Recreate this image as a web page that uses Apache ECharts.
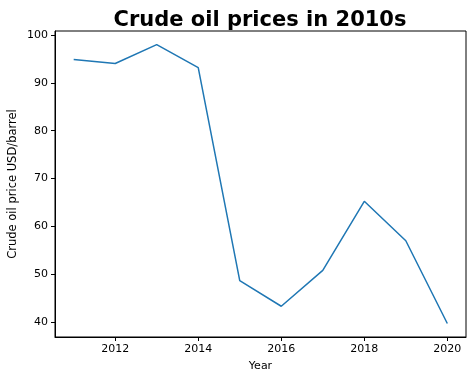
<!DOCTYPE html>
<html><head><meta charset="utf-8">
<script src="https://cdn.jsdelivr.net/npm/echarts@6/dist/echarts.min.js"></script>
<style>html,body{margin:0;padding:0;background:#fff}#c{width:474px;height:381px}</style>
</head><body><div id="c"></div>
<script>
const years = [2011, 2012, 2013, 2014, 2015, 2016, 2017, 2018, 2019, 2020];
const prices = [94.88, 94.05, 97.98, 93.17, 48.66, 43.29, 50.80, 65.23, 56.99, 39.68];
const xTicks = [2012, 2014, 2016, 2018, 2020];
const yTicks = [40, 50, 60, 70, 80, 90, 100];

const font = 'DejaVu Sans';
const chart = echarts.init(document.getElementById('c'), null, {renderer: 'canvas'});
chart.setOption({
  animation: false,
  title: {
    text: 'Crude oil prices in 2010s',
    left: 255, top: 5, textAlign: 'center',
    textStyle: {fontFamily: font, fontWeight: 'bold', fontSize: 21, color: '#000'}
  },
  grid: {left: 55, right: 8, top: 31, bottom: 44, outerBoundsMode: 'none', containLabel: false, show: true, borderColor: '#000', borderWidth: 1, backgroundColor: 'transparent'},
  xAxis: {
    type: 'value', min: 2010.55, max: 2020.45,
    name: 'Year', nameLocation: 'middle', nameGap: 24, nameMoveOverlap: false,
    nameTextStyle: {fontFamily: font, fontSize: 11, color: '#000'},
    splitLine: {show: false},
    axisLine: {show: true, lineStyle: {color: '#000', width: 1}},
    axisTick: {show: true, length: 4, lineStyle: {color: '#000'}, customValues: xTicks},
    axisLabel: {fontFamily: font, fontSize: 11, color: '#000', margin: 7, customValues: xTicks, formatter: v => String(v)}
  },
  yAxis: {
    type: 'value', min: 36.86, max: 100.84,
    name: 'Crude oil price USD/barrel', nameLocation: 'middle', nameGap: 36, nameRotate: 90, nameMoveOverlap: false,
    nameTextStyle: {fontFamily: font, fontSize: 11.5, color: '#000'},
    splitLine: {show: false},
    axisLine: {show: true, lineStyle: {color: '#000', width: 1}},
    axisTick: {show: true, length: 4, lineStyle: {color: '#000'}, customValues: yTicks},
    axisLabel: {fontFamily: font, fontSize: 11, color: '#000', margin: 7, customValues: yTicks, formatter: v => String(v)}
  },
  series: [{
    type: 'line',
    data: years.map((y, i) => [y, prices[i]]),
    showSymbol: false, symbol: 'none',
    lineStyle: {color: '#1f77b4', width: 1.5},
    itemStyle: {color: '#1f77b4'}
  }]
});
</script></body></html>
